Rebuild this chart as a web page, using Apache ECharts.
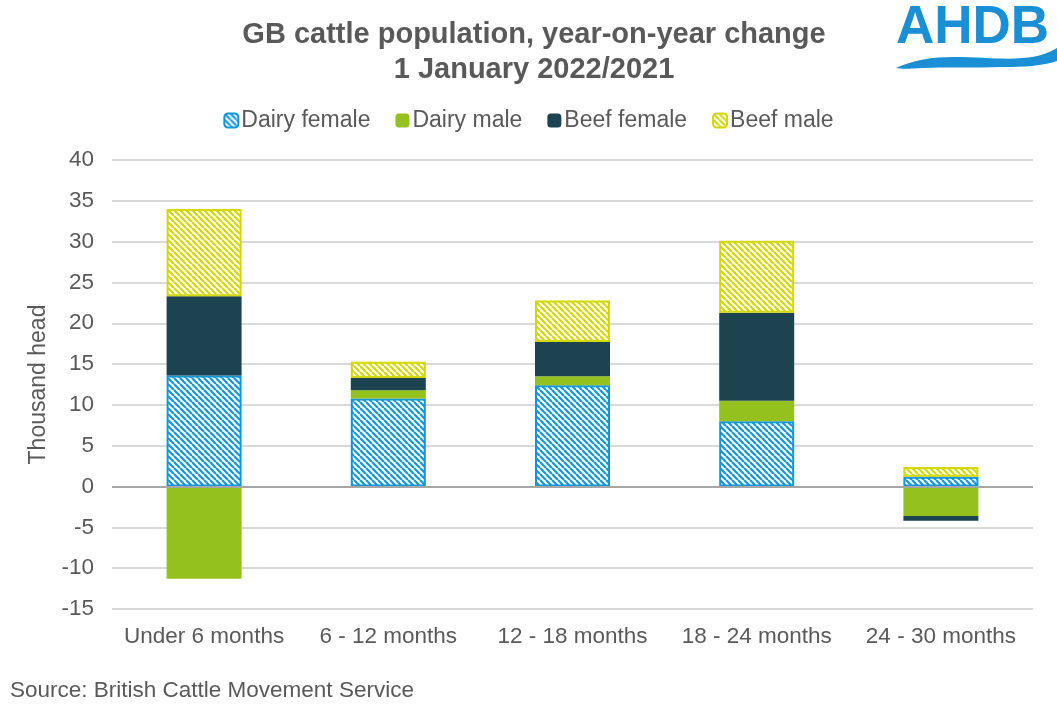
<!DOCTYPE html>
<html>
<head>
    <meta charset="utf-8">
    <title>GB cattle population</title>
    <script src="https://cdn.jsdelivr.net/npm/echarts@6/dist/echarts.min.js"></script>
    <style>
        body { margin: 0; background: #fff; }
        #main { width: 1057px; height: 708px; }
    </style>
</head>
<body>
<div id="main"></div>
<script type="text/javascript">
    // data (thousand head)
    var categories = ['Under 6 months', '6 - 12 months', '12 - 18 months', '18 - 24 months', '24 - 30 months'];
    var dairyFemale = [13.6, 10.8, 12.4, 8.0, 1.2];
    var dairyMale = [-11.3, 1.0, 1.1, 2.5, -3.6];
    var beefFemale = [9.7, 1.5, 4.2, 10.8, -0.6];
    var beefMale = [10.7, 2.0, 5.1, 8.8, 1.2];
    var yTicks = { min: -15, max: 40, step: 5 };

    var blue = '#1097d9', green = '#95c11f', navy = '#1e4350', yellow = '#d3d800';

    // striped fill like the excel pattern fill
    function stripes(col) {
        var c = document.createElement('canvas');
        c.width = 6; c.height = 6;
        var ctx = c.getContext('2d');
        ctx.fillStyle = '#fff';
        ctx.fillRect(0, 0, 6, 6);
        ctx.strokeStyle = col;
        ctx.lineWidth = 2.2;
        ctx.beginPath();
        for (var k = -6; k <= 12; k += 6) {
            ctx.moveTo(k, 0);
            ctx.lineTo(k + 6, 6);
        }
        ctx.stroke();
        return { image: c, repeat: 'repeat' };
    }

    // swoosh under the logo text
    var waveSvg = '<svg xmlns="http://www.w3.org/2000/svg" width="164" height="24">' +
        '<path d="M3 20 C20 12 40 9 60 9 C90 9 110 12 130 10 C145 9 156 5 164 0 L164 13 C150 18 130 19 110 19 C80 20 50 19 30 20 C15 21 8 21 3 20 Z" fill="#1a8fd6"/></svg>';
    var waveUrl = 'data:image/svg+xml;charset=utf-8,' + encodeURIComponent(waveSvg);

    var myChart = echarts.init(document.getElementById('main'));
    var font = 'Liberation Sans, Arial, sans-serif';
    var grey = '#595959';

    var option = {
        animation: false,
        textStyle: { fontFamily: font },
        title: {
            text: 'GB cattle population, year-on-year change\n1 January 2022/2021',
            left: 529, top: 12, textAlign: 'center',
            textStyle: { fontSize: 29, fontWeight: 'bold', color: grey, lineHeight: 35, fontFamily: font }
        },
        legend: {
            top: 104, left: 'center', itemGap: 25,
            itemWidth: 14, itemHeight: 14,
            textStyle: { fontSize: 23, color: grey, fontFamily: font, padding: [0, 0, 0, -2] },
            data: ['Dairy female', 'Dairy male', 'Beef female', 'Beef male']
        },
        grid: { left: 112, right: 24, top: 160, bottom: 99, containLabel: false },
        xAxis: {
            type: 'category',
            data: categories,
            axisLine: { show: false },
            axisTick: { show: false },
            axisLabel: { fontSize: 22.5, color: grey, margin: 16, interval: 0 }
        },
        yAxis: {
            type: 'value',
            min: yTicks.min, max: yTicks.max, interval: yTicks.step,
            name: 'Thousand head', nameLocation: 'middle', nameGap: 56,
            nameTextStyle: { fontSize: 23, color: grey },
            axisLine: { show: false },
            axisTick: { show: false },
            axisLabel: { fontSize: 22.5, color: grey, margin: 18 },
            splitLine: { lineStyle: { color: '#d9d9d9', width: 2 } }
        },
        series: [
            {
                name: 'Dairy female', type: 'bar', stack: 'a', barWidth: 75,
                data: dairyFemale,
                itemStyle: { color: stripes(blue), borderColor: blue, borderWidth: 2 },
                markLine: {
                    silent: true, symbol: 'none', label: { show: false },
                    lineStyle: { color: '#a6a6a6', width: 2, type: 'solid' },
                    data: [{ yAxis: 0 }]
                }
            },
            {
                name: 'Dairy male', type: 'bar', stack: 'a', barWidth: 75,
                data: dairyMale,
                itemStyle: { color: green }
            },
            {
                name: 'Beef female', type: 'bar', stack: 'a', barWidth: 75,
                data: beefFemale,
                itemStyle: { color: navy }
            },
            {
                name: 'Beef male', type: 'bar', stack: 'a', barWidth: 75,
                data: beefMale,
                itemStyle: { color: stripes(yellow), borderColor: yellow, borderWidth: 2 }
            }
        ],
        graphic: [
            {
                type: 'text', left: 10, top: 679,
                style: { text: 'Source: British Cattle Movement Service', fontSize: 22.5, fill: grey, fontFamily: font }
            },
            // AHDB logo
            {
                type: 'text', left: 896, top: 2,
                style: { text: 'AHDB', fontSize: 53, fontWeight: 'bold', fill: '#1a8fd6', fontFamily: font }
            },
            {
                type: 'image', left: 893, top: 48,
                style: { image: waveUrl, width: 164, height: 24 }
            }
        ]
    };
    myChart.setOption(option);
</script>
</body>
</html>
